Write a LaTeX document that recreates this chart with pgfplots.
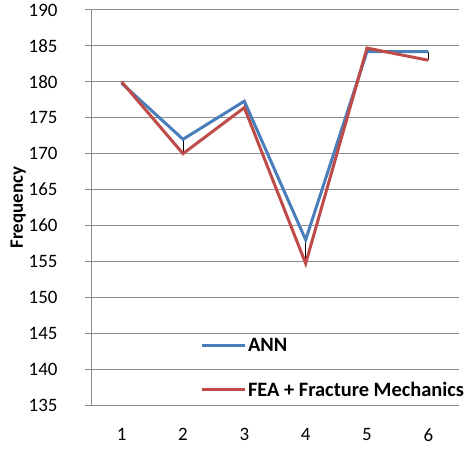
\documentclass[border=0pt]{standalone}
\usepackage{fontspec}
\setmainfont{Carlito}
\usepackage{pgfplots}
\pgfplotsset{compat=1.18}
\definecolor{annblue}{HTML}{4A7EBB}
\definecolor{fearred}{HTML}{BE4B48}
\definecolor{gridg}{RGB}{140,140,140}
\begin{document}
\begin{tikzpicture}[font=\fontsize{19}{22}\selectfont]
\begin{axis}[
  at={(0,0)}, anchor=south west,
  scale only axis, width=368bp, height=395bp,
  xmin=0.5, xmax=6.5, ymin=135, ymax=190,
  xtick={1,2,3,4,5,6},
  ytick={135,140,...,190},
  /pgf/number format/assume math mode=true,
  axis x line=bottom, axis y line=left,
  axis line style={gridg, -, line width=1pt},
  ymajorgrids, major grid style={gridg, line width=1pt},
  x tick style={draw=none},
  y tick style={gridg, line width=1pt},
  major tick length=6bp,
  tick align=outside,
  yticklabel style={xshift=-24bp, font=\fontsize{19}{22}\selectfont},
  xticklabel style={yshift=-14bp, font=\fontsize{19}{22}\selectfont},
  ylabel={\textbf{Frequency}},
  every axis y label/.style={at={(rel axis cs:-0.198,0.5)}, rotate=90, anchor=center, font=\fontsize{19}{22}\selectfont},
  legend style={draw=none, fill=none, at={(0.296,0.174)}, anchor=north west,
    font=\fontsize{20.5}{23}\selectfont\bfseries, row sep=24.5bp, inner sep=0pt},
  legend cell align=left,
  legend image code/.code={\draw[#1] plot coordinates {(0bp,0bp) (43bp,0bp)};},
  clip=false,
]
\addplot[draw=none, forget plot, error bars/.cd, y dir=plus, y explicit, error mark=none,
  error bar style={black, line width=0.6pt}]
  coordinates {(1,179.8) +- (0,0.2) (2,170) +- (0,2) (3,176.4) +- (0,0.9) (4,154.7) +- (0,3.3) (5,184.2) +- (0,0.5) (6,183) +- (0,1.2)};
\addplot[annblue, line width=3pt, line join=miter] coordinates {(1,179.8) (2,172) (3,177.3) (4,158) (5,184.2) (6,184.2)};
\addlegendentry{ANN}
\addplot[fearred, line width=3pt, line join=miter] coordinates {(1,180) (2,170) (3,176.4) (4,154.7) (5,184.7) (6,183)};
\addlegendentry{FEA + Fracture Mechanics}
\end{axis}
\path[use as bounding box] (-91bp,-61bp) rectangle (383bp,405bp);
\end{tikzpicture}
\end{document}
